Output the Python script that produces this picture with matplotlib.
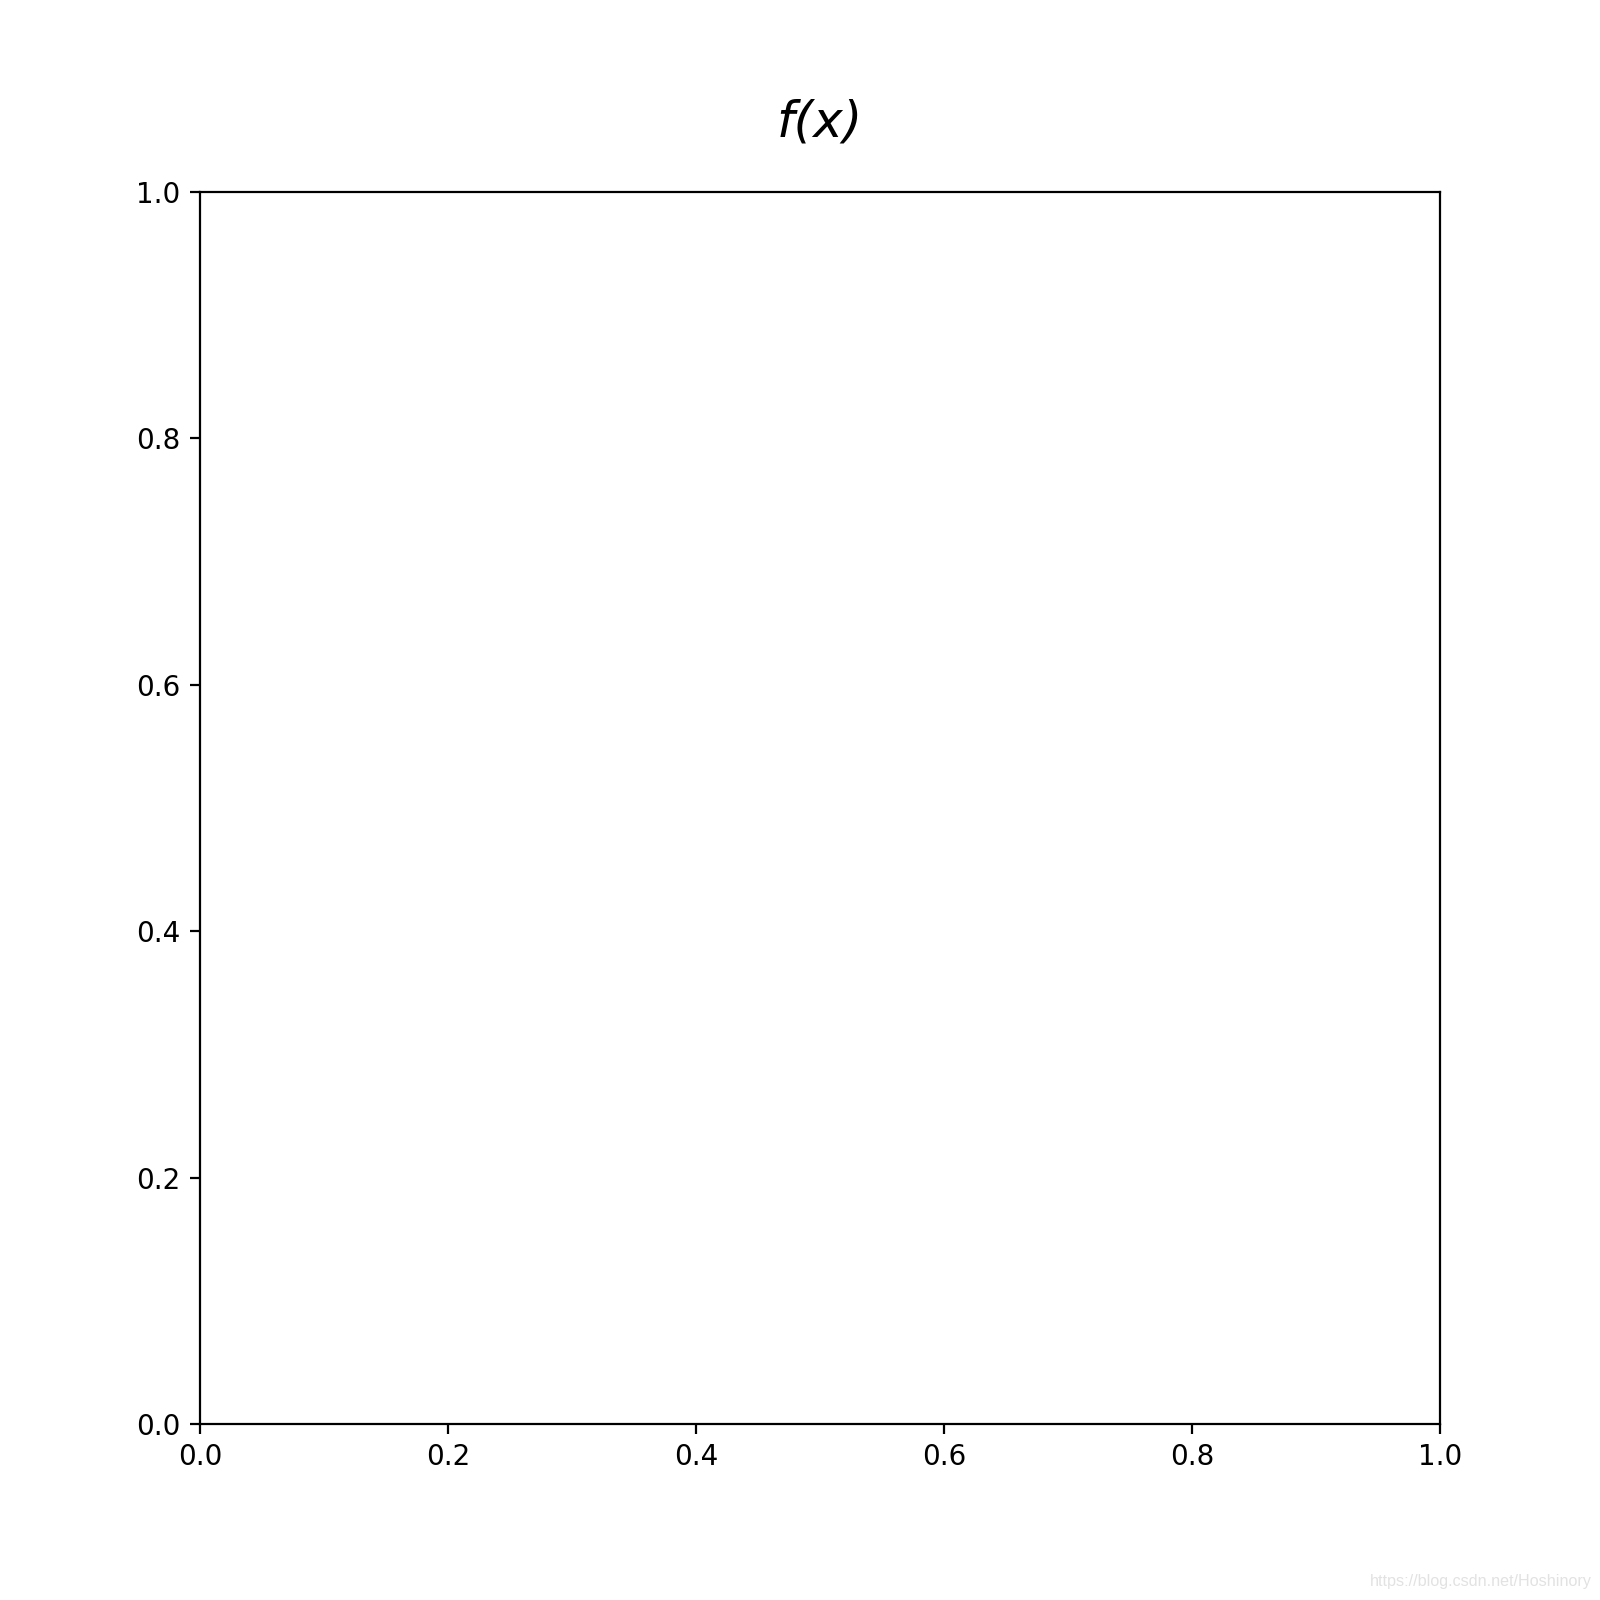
import matplotlib
matplotlib.use("Agg")
import matplotlib.pyplot as plt

title_text = "f(x)"
watermark = "https://blog.csdn.net/Hoshinory"
xlim = [0.0, 1.0]
ylim = [0.0, 1.0]

fig = plt.figure(figsize=(8, 8), dpi=200)
ax = fig.add_subplot(111)
ax.set_xlim(xlim)
ax.set_ylim(ylim)
ax.set_title(title_text, fontsize=18, fontstyle="italic", pad=20)

fig.text(0.995, 0.007, watermark, ha="right", va="bottom",
         fontsize=5.8, color="#e2e2e2", family="Liberation Sans")

fig.savefig("out.png", dpi=200)
